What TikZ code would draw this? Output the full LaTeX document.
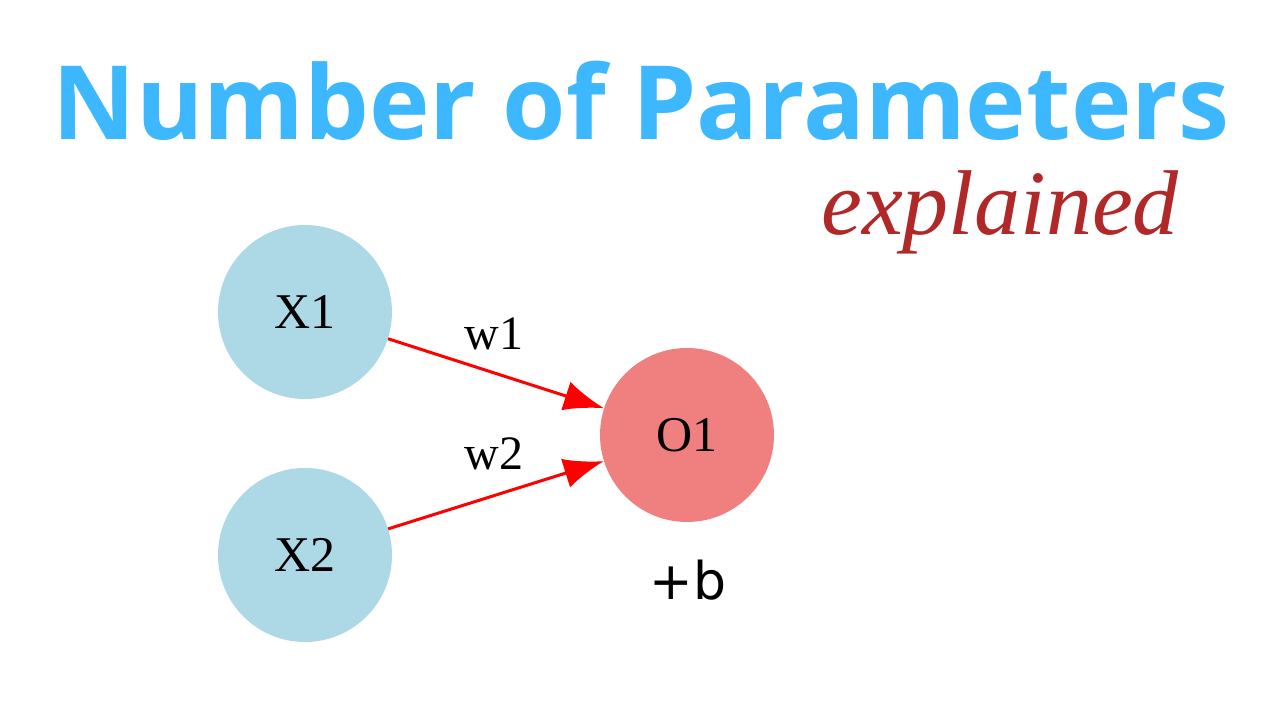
\documentclass[tikz,border=0pt]{standalone}
\usepackage{fontspec}
\setmainfont{Liberation Serif}
\newfontfamily\titlefont{Open Sans}
\newfontfamily\plusfont{DejaVu Sans}
\usetikzlibrary{arrows.meta}
\definecolor{titleblue}{HTML}{3DB8FF}
\definecolor{explred}{HTML}{B02828}
\definecolor{nodeblue}{HTML}{ADD8E6}
\definecolor{nodered}{HTML}{F08080}
\tikzset{
  neuron/.style={circle,minimum size=174pt,inner sep=0pt,font=\fontsize{50}{50}\selectfont},
  inp/.style={neuron,fill=nodeblue},
  outp/.style={neuron,fill=nodered},
  conn/.style={draw=red,line width=3pt,-{Latex[length=40pt,width=30pt]}},
  wlabel/.style={font=\fontsize{48}{48}\selectfont}
}
\begin{document}
\begin{tikzpicture}[x=1pt,y=1pt]
\useasboundingbox[fill=white] (0,0) rectangle (1280,720);
\node[font=\titlefont\bfseries\fontsize{102.5}{100}\selectfont,text=titleblue,anchor=base] (title) at (641,580) {Number of Parameters};
\node[font=\itshape\fontsize{92}{92}\selectfont,text=explred,anchor=base] (expl) at (1000,485) {explained};
\node[inp] (x1) at (305,408) {X1};
\node[inp] (x2) at (305,165) {X2};
\node[outp] (o1) at (687,285) {O1};
\draw[conn] (x1) -- (o1);
\draw[conn] (x2) -- (o1);
\node[wlabel] (w1) at (494,386) {w1};
\node[wlabel] (w2) at (494,266) {w2};
\node[font=\plusfont\fontsize{52}{52}\selectfont] (b) at (688,140) {+b};
\end{tikzpicture}
\end{document}
